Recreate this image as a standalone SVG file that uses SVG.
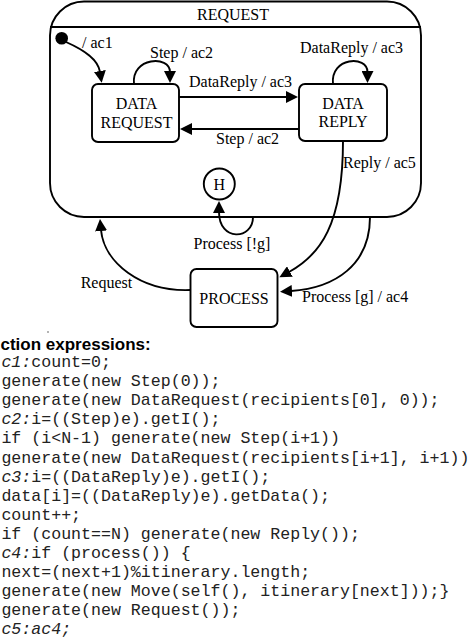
<svg xmlns="http://www.w3.org/2000/svg" width="474" height="638" viewBox="0 0 474 638">
<style>
.st{fill:#fff;stroke:#000;stroke-width:1.9}
.ln{fill:none;stroke:#000;stroke-width:1.9}
.t{font-family:"Liberation Serif","Times New Roman",serif;font-size:16px;fill:#000}
.tm{text-anchor:middle}
.code{font-family:"Liberation Mono","Courier New",monospace;font-size:16.6px;fill:#222}
.it{font-style:italic}
.hd{font-family:"Liberation Sans",Arial,sans-serif;font-size:17px;font-weight:bold;fill:#000}
</style>
<defs>
<marker id="ah" markerWidth="13" markerHeight="12" refX="1" refY="6" orient="auto" markerUnits="userSpaceOnUse">
<path d="M0,0 L12,6 L0,12 z" fill="#000"/>
</marker>
</defs>
<rect width="474" height="638" fill="#fff"/>

<g id="request">
<rect class="st" x="50" y="1.5" width="371" height="215.5" rx="34" ry="34"/>
<line class="ln" x1="50" y1="27" x2="421" y2="27"/>
<text class="t tm" x="233" y="20">REQUEST</text>
</g>

<g id="initial">
<circle cx="61.7" cy="38.3" r="6.3" fill="#000"/>
</g>

<g id="data-request">
<rect class="st" x="92" y="84" width="87" height="58" rx="6"/>
<text class="t tm" x="136.5" y="109">DATA</text>
<text class="t tm" x="136.5" y="128">REQUEST</text>
</g>

<g id="data-reply">
<rect class="st" x="299" y="84" width="88" height="57" rx="6"/>
<text class="t tm" x="343" y="109">DATA</text>
<text class="t tm" x="343" y="127">REPLY</text>
</g>

<g id="history">
<circle class="st" cx="219.3" cy="184" r="15.5"/>
<text class="t tm" x="219.3" y="189.5">H</text>
</g>

<g id="process">
<rect class="st" x="190.5" y="269" width="87" height="58" rx="6"/>
<text class="t tm" x="234" y="303.5">PROCESS</text>
</g>

<g id="connectors">
<path class="ln" marker-end="url(#ah)" d="M66,42 C84,50 98,59 100,72"/>
<path class="ln" marker-end="url(#ah)" d="M134,84 C131,57 170,55 170,72"/>
<path class="ln" marker-end="url(#ah)" d="M333,84 C330,57 367.5,55 367.5,72"/>
<path class="ln" marker-end="url(#ah)" d="M179,97 L287,97"/>
<path class="ln" marker-end="url(#ah)" d="M299,129 L191,129"/>
<path class="ln" marker-end="url(#ah)" d="M253,217 C253,240 219,242 219,212"/>
<path class="ln" marker-end="url(#ah)" d="M190.5,290 C140,292 104,262 101,230"/>
<path class="ln" marker-end="url(#ah)" d="M343,141 C343,225 320,255 289,272"/>
<path class="ln" marker-end="url(#ah)" d="M370,217 C370,265 335,288 291,291"/>
</g>

<g id="labels">
<text class="t" x="82" y="48.3">/ ac1</text>
<text class="t" x="150" y="58.3">Step / ac2</text>
<text class="t" x="300" y="53.3">DataReply / ac3</text>
<text class="t" x="189" y="87">DataReply / ac3</text>
<text class="t" x="216" y="144">Step / ac2</text>
<text class="t" x="343" y="168">Reply / ac5</text>
<text class="t" x="193.5" y="249.3">Process [!g]</text>
<text class="t" x="80.7" y="288.3">Request</text>
<text class="t" x="302" y="302">Process [g] / ac4</text>
</g>

<g id="actions">
<circle cx="48" cy="332" r="0.8" fill="#555"/>
<text class="hd" x="0.5" y="350">ction expressions:</text>
<text class="code" x="1.4" y="367"><tspan class="it">c1:</tspan>count=0;</text>
<text class="code" x="1.4" y="386.1">generate(new Step(0));</text>
<text class="code" x="1.4" y="405.2">generate(new DataRequest(recipients[0], 0));</text>
<text class="code" x="1.4" y="424.3"><tspan class="it">c2:</tspan>i=((Step)e).getI();</text>
<text class="code" x="1.4" y="443.4">if (i&lt;N-1) generate(new Step(i+1))</text>
<text class="code" x="1.4" y="462.5">generate(new DataRequest(recipients[i+1], i+1))</text>
<text class="code" x="1.4" y="481.6"><tspan class="it">c3:</tspan>i=((DataReply)e).getI();</text>
<text class="code" x="1.4" y="500.7">data[i]=((DataReply)e).getData();</text>
<text class="code" x="1.4" y="519.8">count++;</text>
<text class="code" x="1.4" y="538.9">if (count==N) generate(new Reply());</text>
<text class="code" x="1.4" y="558"><tspan class="it">c4:</tspan>if (process()) {</text>
<text class="code" x="1.4" y="577.1">next=(next+1)%itinerary.length;</text>
<text class="code" x="1.4" y="596.2">generate(new Move(self(), itinerary[next]));}</text>
<text class="code" x="1.4" y="615.3">generate(new Request());</text>
<text class="code it" x="1.4" y="634.4">c5:ac4;</text>
</g>
</svg>
